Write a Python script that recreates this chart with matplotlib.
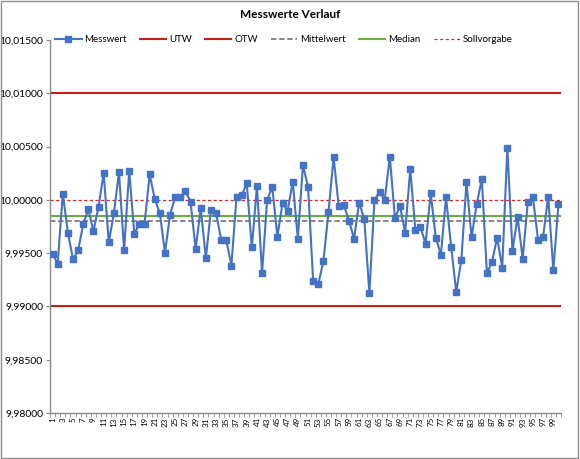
import matplotlib
matplotlib.use("Agg")
import matplotlib.pyplot as plt
from matplotlib.patches import Rectangle
from matplotlib.ticker import FuncFormatter, MultipleLocator

plt.rcParams["font.family"] = ["Lato", "DejaVu Sans"]

messwert = [
    9.99493, 9.99400, 10.00059, 9.99693, 9.99444, 9.99525, 9.99772, 9.99912, 9.99709, 9.99934,
    10.00253, 9.99600, 9.99875, 10.00260, 9.99525, 10.00275, 9.99681, 9.99775, 9.99775, 10.00238,
    10.00009, 9.99872, 9.99503, 9.99862, 10.00028, 10.00025, 10.00084, 9.99981, 9.99540, 9.99922,
    9.99453, 9.99906, 9.99875, 9.99628, 9.99622, 9.99384, 10.00031, 10.00041, 10.00156, 9.99553,
    10.00128, 9.99318, 10.00003, 10.00119, 9.99656, 9.99969, 9.99894, 10.00172, 9.99637, 10.00325,
    10.00122, 9.99240, 9.99209, 9.99422, 9.99884, 10.00400, 9.99941, 9.99950, 9.99806, 9.99637,
    9.99975, 9.99819, 9.99128, 10.00000, 10.00075, 9.99997, 10.00406, 9.99828, 9.99941, 9.99693,
    10.00288, 9.99715, 9.99744, 9.99590, 10.00062, 9.99644, 9.99487, 10.00025, 9.99562, 9.99134,
    9.99437, 10.00166, 9.99650, 9.99959, 10.00194, 9.99312, 9.99418, 9.99644, 9.99365, 10.00491,
    9.99519, 9.99841, 9.99447, 9.99981, 10.00025, 9.99628, 9.99656, 10.00031, 9.99340, 9.99959,
]
utw = 9.990
otw = 10.010
mittelwert = 9.99806
median = 9.99847
sollvorgabe = 10.000

n = len(messwert)
x = list(range(1, n + 1))

fig = plt.figure(figsize=(5.8, 4.59), dpi=100)
fig.patches.append(Rectangle((0.001, 0.002), 0.996, 0.995, transform=fig.transFigure,
                             fill=False, edgecolor="#8c8c8c", linewidth=1.0))
ax = fig.add_axes([50 / 580, 1 - 413 / 459, 511 / 580, 373 / 459])

ax.axhline(utw, color="#C81E1E", lw=1.5, label="UTW")
ax.axhline(otw, color="#C81E1E", lw=1.5, label="OTW")
ax.axhline(mittelwert, color="#7f7f7f", lw=1.3, ls=(0, (3, 1.5)), label="Mittelwert")
ax.axhline(median, color="#6FAD3F", lw=1.5, label="Median")
ax.axhline(sollvorgabe, color="#E8201E", lw=0.9, ls=(0, (2.5, 2)), label="Sollvorgabe")
ax.plot(x, messwert, color="#4472C4", lw=1.5, marker="s", markersize=5,
        markerfacecolor="#4472C4", markeredgecolor="#4472C4", label="Messwert", zorder=5)

ax.set_xlim(0.5, n + 0.5)
ax.set_ylim(9.98, 10.015)
ax.yaxis.set_major_locator(MultipleLocator(0.005))
ax.yaxis.set_major_formatter(FuncFormatter(lambda v, p: f"{v:.5f}".replace(".", ",")))
ax.set_xticks(range(1, n + 1, 2))
ax.set_xticklabels([str(i) for i in range(1, n + 1, 2)], rotation=90, fontsize=5.8)
ax.set_xticks([i + 0.5 for i in range(0, n + 1)], minor=True)
ax.tick_params(axis="x", which="major", length=0, pad=3)
ax.tick_params(axis="x", which="minor", length=3, color="#8c8c8c")
ax.tick_params(axis="y", length=3, color="#8c8c8c", labelsize=7.5, pad=2)

for s in ["top", "right"]:
    ax.spines[s].set_visible(False)
for s in ["left", "bottom"]:
    ax.spines[s].set_color("#8c8c8c")
    ax.spines[s].set_linewidth(1.0)

fig.text(0.5, 1 - 15 / 459, "Messwerte Verlauf", ha="center", va="center",
         fontsize=8.5, fontweight="bold")

handles, labels = ax.get_legend_handles_labels()
order = [5, 0, 1, 2, 3, 4]
fig.legend([handles[i] for i in order], [labels[i] for i in order],
           loc="center", bbox_to_anchor=(284 / 580, 1 - 40 / 459), ncol=6, frameon=False,
           fontsize=7, handlelength=2.7, handletextpad=0.3, columnspacing=1.35)

fig.savefig("out.png", dpi=100)
